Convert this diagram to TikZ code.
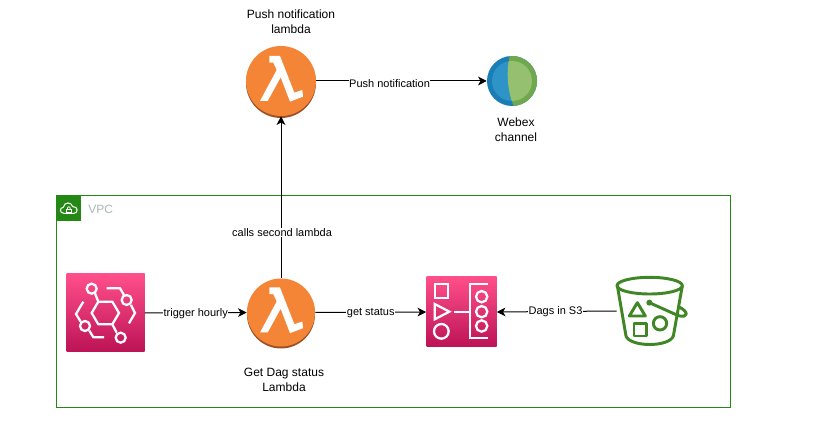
\documentclass[tikz,border=0pt]{standalone}
\usepackage{fontspec}
\setmainfont{Liberation Sans}
\usetikzlibrary{arrows.meta}
\definecolor{awsgreen}{HTML}{248814}
\definecolor{bucketgreen}{HTML}{3F8624}
\definecolor{lamorange}{HTML}{F58536}
\definecolor{lamshadow}{HTML}{9D5025}
\definecolor{pinktop}{HTML}{FF4F8B}
\definecolor{pinkbot}{HTML}{BC1356}
\definecolor{vpcgrey}{HTML}{AAB7B8}
\definecolor{wblueout}{HTML}{1A7DB6}
\definecolor{wbluein}{HTML}{2E93C6}
\definecolor{wgreenout}{HTML}{6FA84D}
\definecolor{wgreenin}{HTML}{95C06F}
\tikzset{
  lambdanode/.style={circle,minimum size=52.5pt,inner sep=0pt,fill=lamorange},
  pinkbox/.style={rectangle,inner sep=0pt,top color=pinktop,bottom color=pinkbot},
  nodelabel/.style={align=center,font=\fontsize{9}{11.25}\selectfont,inner sep=0pt},
  edgelabel/.style={font=\fontsize{8.25}{10}\selectfont,fill=white,inner sep=0.4pt},
  conn/.style={draw=black,line width=0.75pt,-{Stealth[length=6.5pt,width=6.5pt,inset=1.8pt]}},
  whiteline/.style={draw=white,line width=1.7pt,line join=miter},
  greenline/.style={draw=bucketgreen,line width=2.2pt,line join=round,line cap=round},
  zoomed/.style={x=0.25pt,y=-0.25pt}
}
\newcommand{\lambdaglyph}{%
  \fill[white] (-35,-75) -- (-3,-75) -- (40,35) -- (64,27) -- (66,47) -- (27,62) -- (-1,-11)
    -- (-40,60) -- (-63,60) -- (-13,-33) -- (-23,-55) -- (-35,-55) -- cycle;}
\begin{document}
\begin{tikzpicture}[x=0.75pt,y=-0.75pt]
\useasboundingbox (0,0) rectangle (820,423);
\fill[white] (0,0) rectangle (820,423);

% VPC group
\node[rectangle,draw=awsgreen,line width=0.75pt,minimum width=505.5pt,minimum height=158.25pt,inner sep=0pt] (vpc) at (393,301.5) {};
\node[rectangle,fill=awsgreen,minimum size=19pt,inner sep=0pt,anchor=north west] (vpctag) at (vpc.north west) {};
\begin{scope}[shift={(50,190)},zoomed]
  \draw[white,line width=0.8pt,line join=round] (42,70) .. controls (28,70) and (28,52) .. (40,52)
    .. controls (42,35) and (65,35) .. (68,50) .. controls (85,48) and (85,70) .. (72,70) -- cycle;
  \draw[white,line width=0.6pt] (50,57) rectangle (63,66);
  \draw[white,line width=0.6pt] (52,57) .. controls (52,48) and (61,48) .. (61,57);
\end{scope}
\node[anchor=west,text=vpcgrey,font=\fontsize{9}{11}\selectfont,inner sep=0pt] (vpclabel) at (88,209) {VPC};

% Lambdas
\fill[lamshadow] (281,83) circle (35);
\node[lambdanode] (lamA) at (281,81) {};
\begin{scope}[shift={(lamA.center)},zoomed]\lambdaglyph\end{scope}
\fill[lamshadow] (281,314.5) circle (34);
\node[lambdanode,minimum size=51pt] (lamB) at (281,312.5) {};
\begin{scope}[shift={(lamB.center)},zoomed]\lambdaglyph\end{scope}

% EventBridge
\node[pinkbox,minimum width=58.5pt,minimum height=58.5pt] (bridge) at (105.5,313) {};
\begin{scope}[shift={(50,190)},zoomed,whiteline]
  \draw (125,296) circle (15);
  \draw (230,330) circle (15);
  \draw (105,408) circle (15);
  \draw (212,443) circle (15);
  \draw (207,369) -- (187,403) -- (145,403) -- (125,369) -- (145,335) -- (187,335) -- cycle;
  \draw (135,310) -- (145,335);
  \draw (200,428) -- (187,403);
  \draw (170,295) -- (210,295) -- (222,315);
  \draw (243,345) -- (255,369) -- (237,400);
  \draw (100,335) -- (78,372) -- (92,395);
  \draw (118,422) -- (130,442) -- (162,442);
\end{scope}

% MWAA
\node[pinkbox,minimum width=52.5pt,minimum height=52.5pt] (mwaa) at (461.5,312) {};
\begin{scope}[shift={(420,270)},zoomed,whiteline]
  \draw (44,43) rectangle (85,85);
  \draw (44,102) -- (44,148) -- (88,125) -- cycle;
  \draw (64,184) circle (22);
  \draw (102,125) -- (150,125);
  \draw (205,43) -- (150,43) -- (150,205) -- (205,205);
  \draw (185,80) circle (17);
  \draw (185,125) circle (17);
  \draw (185,168) circle (17);
\end{scope}

% S3 bucket
\node[rectangle,minimum width=52.5pt,minimum height=52.5pt,inner sep=0pt] (bucket) at (652,311) {};
\begin{scope}[shift={(610,270)},zoomed,greenline]
  \draw (119,47) ellipse (98 and 25);
  \draw (22,47) -- (48,198) .. controls (60,232) and (178,232) .. (190,198) -- (217,47);
  \fill[bucketgreen] (118,98) circle (9);
  \draw (118,98) -- (205,137) .. controls (235,145) and (238,125) .. (205,110);
  \draw (82,98) -- (58,138) -- (106,138) -- cycle;
  \draw (72,160) rectangle (110,198);
  \draw (150,160) circle (20);
\end{scope}

% Webex
\node[circle,minimum size=37.5pt,inner sep=0pt,fill=wblueout] (webex) at (512,81) {};
\fill[wbluein] (webex.center) circle (20);
\begin{scope}
  \clip (webex.center) circle (25);
  \fill[wgreenout] (510,55) .. controls (506,70) and (507,92) .. (515,109) -- (540,109) -- (540,55) -- cycle;
\end{scope}
\begin{scope}
  \clip (webex.center) circle (20);
  \fill[wgreenin] (510,55) .. controls (506,70) and (507,92) .. (515,109) -- (540,109) -- (540,55) -- cycle;
\end{scope}

% Connectors
\draw[conn] (bridge.east) -- (lamB.west)
  node[edgelabel,pos=0.5,yshift=-1pt] (lbltrigger) {trigger hourly};
\draw[conn] (lamB.east) -- (mwaa.west)
  node[edgelabel,pos=0.5,yshift=-1pt] (lblstatus) {get status};
\draw[conn] (bucket.west) -- (mwaa.east)
  node[edgelabel,pos=0.51,yshift=-0.3pt] (lbls3) {Dags in S3};
\draw[conn] (lamB.north) -- (lamA.south)
  node[edgelabel,pos=0.28,xshift=0.8pt] (lblcalls) {calls second lambda};
\draw[conn] (lamA.east) -- (webex.west)
  node[edgelabel,pos=0.43,yshift=-2pt] (lblpush) {Push notification};

% Labels
\node[nodelabel] (lbltop) at (291,21.5) {Push notification\\lambda};
\node[nodelabel] (lblbottom) at (284,379.5) {Get Dag status\\Lambda};
\node[nodelabel] (lblwebex) at (516,129.5) {Webex\\channel};
\end{tikzpicture}
\end{document}
